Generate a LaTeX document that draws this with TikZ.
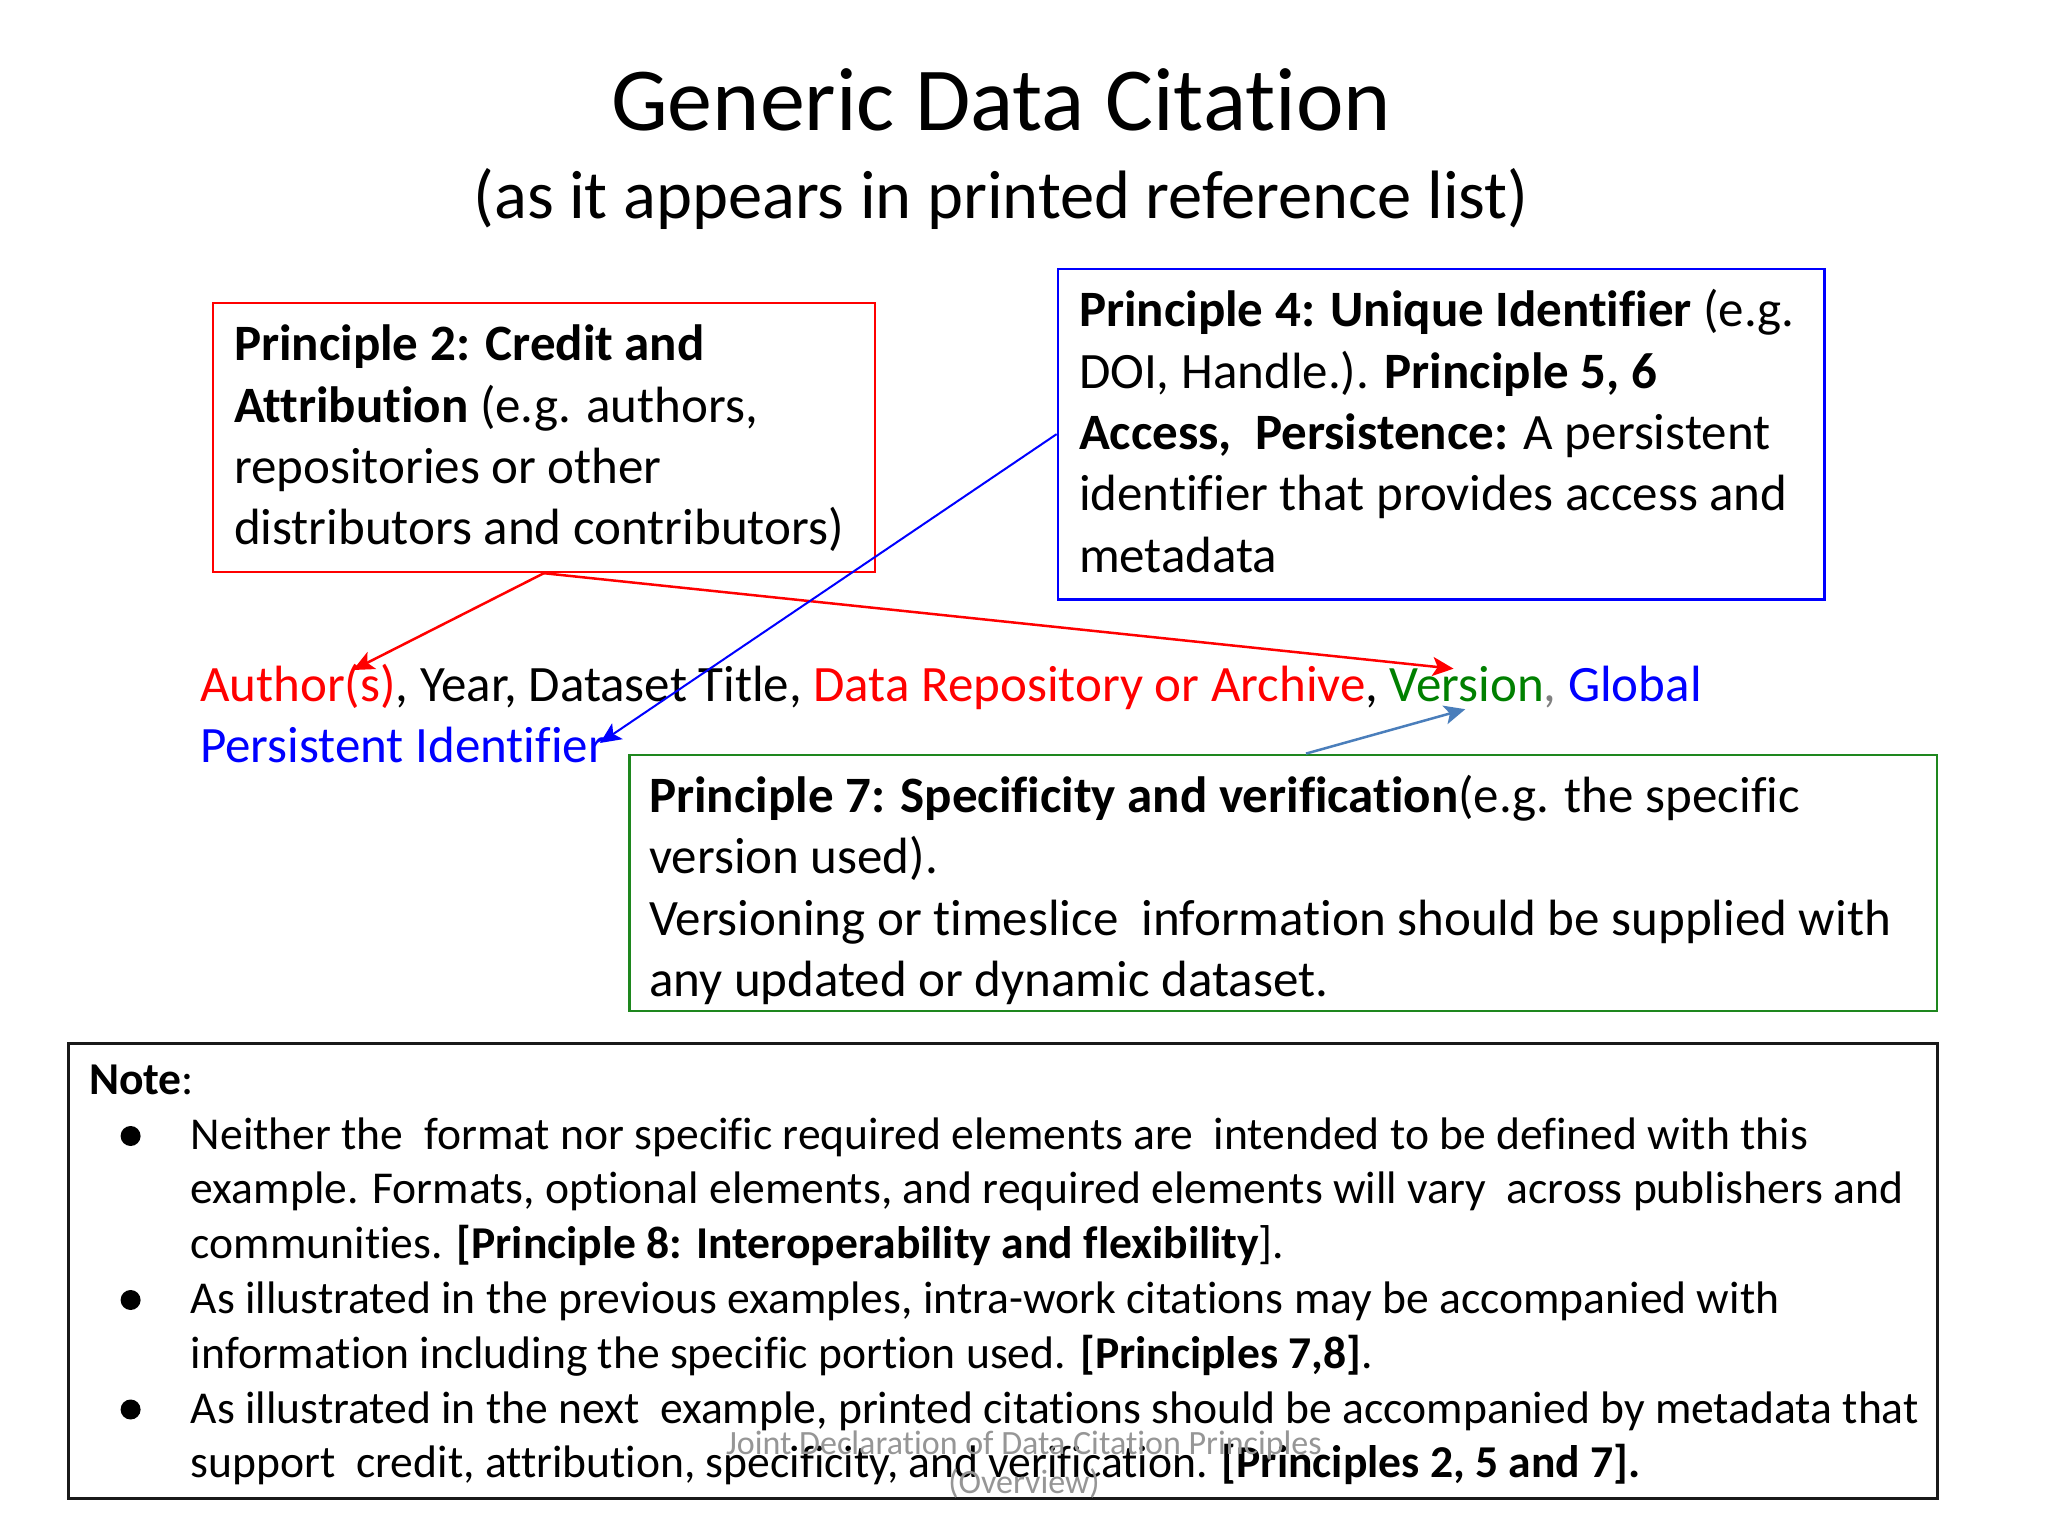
\documentclass[tikz,border=0pt]{standalone}
\usepackage{fontspec}
\setmainfont{Carlito}[Ligatures={NoCommon}]
\usetikzlibrary{arrows.meta}
\definecolor{vgreen}{RGB}{0,128,0}
\definecolor{boxgreen}{RGB}{30,135,30}
\definecolor{steel}{RGB}{74,126,187}
\definecolor{footgray}{RGB}{150,150,150}
\definecolor{notec}{RGB}{25,25,25}
\begin{document}
\begin{tikzpicture}[x=1pt,y=-1pt,
  frame/.style={draw, line width=2.5pt, inner sep=0pt, anchor=north west},
  body/.style={font=\fontsize{51}{61.4}\selectfont, align=left, inner sep=0pt, anchor=north west},
  notebody/.style={font=\fontsize{45.6}{54.8}\selectfont, align=left, inner sep=0pt, anchor=north west},
  arr/.style={line width=2.5pt, -{Stealth[length=21pt,width=19pt,inset=5pt]}}]
\useasboundingbox (0,0) rectangle (2048,1536);
\fill[white] (0,0) rectangle (2048,1536);
% title
\node[font=\fontsize{90}{108}\selectfont, anchor=base, inner sep=0pt] (title) at (1001,131) {Generic Data Citation};
\node[font=\fontsize{68.5}{80}\selectfont, anchor=base, inner sep=0pt] (subtitle) at (1001,218) {(as it appears in printed reference list)};
% boxes
\node[frame, draw=red, minimum width=662pt, minimum height=269pt] (red) at (211.6,301.7) {};
\node[frame, draw=blue, minimum width=766.6pt, minimum height=330.4pt] (blue) at (1056.6,267.7) {};
\node[frame, draw=boxgreen, minimum width=1307.3pt, minimum height=255.9pt] (green) at (628.2,753.6) {};
\node[frame, draw=notec, line width=3pt, minimum width=1868.9pt, minimum height=454.5pt] (note) at (66.6,1042.2) {};
% box texts
\node[body] (redtxt) at (233.8,317.5) {\strut\textbf{Principle 2: Credit and}\\
\textbf{Attribution} (e.g. authors,\\
repositories or other\\
distributors and contributors)};
\node[body] (bluetxt) at (1078.8,283.5) {\strut\textbf{Principle 4: Unique Identifier} (e.g.\\
DOI, Handle.). \textbf{Principle 5, 6}\\
\textbf{Access,\ \ Persistence:} A persistent\\
identifier that provides access and\\
metadata};
\node[body] (greentxt) at (649,769.3) {\strut\textbf{Principle 7: Specificity and verification}(e.g. the specific\\
version used).\\
Versioning or timeslice\ \ information should be supplied with\\
any updated or dynamic dataset.};
% citation
\node[body] (cite) at (199.8,658) {\strut{\color{red}Author(s)}, Year, Dataset Title, {\color{red}Data Repository or Archive}, {\color{vgreen}Version}{\color{gray},} {\color{blue}Global}\\
{\color{blue}Persistent Identifier}};
% note
\node[font=\fontsize{45.6}{54.8}\selectfont, anchor=base west, inner sep=0pt] (notelbl) at (88.8,1094.5) {\textbf{Note}:};
\node[notebody] (notetxt) at (190.7,1110.6) {\strut Neither the\ \ format nor specific required elements are\ \ intended to be defined with this\\
example. Formats, optional elements, and required elements will vary\ \ across publishers and\\
communities. \textbf{[Principle 8: Interoperability and flexibility}].\\
As illustrated in the previous examples, intra-work citations may be accompanied with\\
information including the specific portion used. \textbf{[Principles 7,8]}.\\
As illustrated in the next\ \ example, printed citations should be accompanied by metadata that\\
support\ \ credit, attribution, specificity, and verification. \textbf{[Principles 2, 5 and 7].}};
\fill (130.6,1136) circle (10);
\fill (130.6,1300) circle (10);
\fill (130.6,1409.5) circle (10);
% footer
\node[font=\fontsize{34}{40}\selectfont, text=footgray, anchor=base, inner sep=0pt] (foot1) at (1024,1454) {Joint Declaration of Data Citation Principles};
\node[font=\fontsize{34}{40}\selectfont, text=footgray, anchor=base, inner sep=0pt] (foot2) at (1024,1493) {(Overview)};
% arrows
\coordinate (tipA) at (353,670);
\coordinate (tipV) at (1453.6,668.7);
\coordinate (tipP) at (600,743);
\coordinate (tipS) at (1465.3,709.2);
\coordinate (gstart) at (1306,753.6);
\draw[arr, red] (red.south) -- (tipA);
\draw[arr, red] (red.south) -- (tipV);
\draw[arr, blue, line width=2pt] (blue.west) -- (tipP);
\draw[arr, steel] (gstart) -- (tipS);
\end{tikzpicture}
\end{document}
